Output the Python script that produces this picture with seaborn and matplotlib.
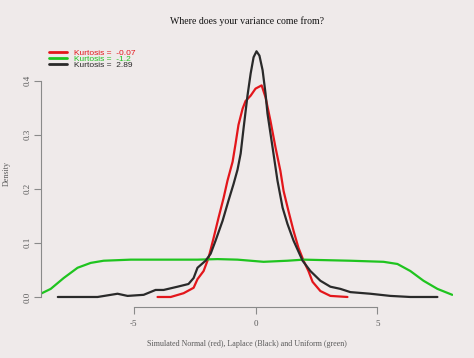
import matplotlib
matplotlib.use("Agg")
import matplotlib.pyplot as plt
import seaborn as sns
import pandas as pd

# Normal (red) density
normal_x = [-4.02, -3.48, -2.95, -2.54, -2.38, -2.13, -1.93, -1.72, -1.52, -1.31, -1.15,
            -0.94, -0.82, -0.70, -0.53, -0.41, -0.20, 0.0, 0.25, 0.41, 0.61, 0.82, 1.02,
            1.15, 1.35, 1.56, 1.76, 1.97, 2.17, 2.34, 2.66, 3.07, 3.77]
normal_y = [0.0, 0.0, 0.007, 0.017, 0.033, 0.048, 0.072, 0.109, 0.146, 0.183, 0.215,
            0.250, 0.283, 0.318, 0.348, 0.362, 0.372, 0.385, 0.391, 0.369, 0.326, 0.276,
            0.233, 0.196, 0.159, 0.122, 0.091, 0.067, 0.048, 0.028, 0.011, 0.002, 0.0]

# Laplace (black) density
laplace_x = [-8.11, -7.58, -6.48, -5.66, -5.25, -4.59, -4.10, -3.77, -3.20, -2.75, -2.54,
             -2.38, -2.05, -1.84, -1.64, -1.35, -1.11, -0.90, -0.74, -0.61, -0.49, -0.33,
             -0.20, -0.08, 0.04, 0.16, 0.29, 0.41, 0.49, 0.70, 0.90, 1.11, 1.31, 1.56,
             1.93, 2.25, 2.66, 3.07, 3.48, 3.89, 4.71, 5.53, 6.35, 7.46]
laplace_y = [0.0, 0.0, 0.0, 0.006, 0.002, 0.004, 0.013, 0.013, 0.019, 0.024, 0.035,
             0.054, 0.067, 0.080, 0.104, 0.141, 0.178, 0.209, 0.235, 0.265, 0.312, 0.372,
             0.413, 0.443, 0.454, 0.446, 0.419, 0.376, 0.339, 0.276, 0.215, 0.165, 0.135,
             0.104, 0.067, 0.048, 0.030, 0.019, 0.015, 0.009, 0.006, 0.002, 0.0, 0.0]

# Uniform (green) density
uniform_x = [-8.81, -8.40, -7.87, -7.30, -6.76, -6.23, -5.12, -3.77, -2.38, -1.56, -0.74,
             0.33, 1.31, 1.97, 3.89, 5.25, 5.82, 6.35, 6.89, 7.46, 8.07]
uniform_y = [0.006, 0.015, 0.035, 0.054, 0.063, 0.067, 0.069, 0.069, 0.069, 0.070, 0.069,
             0.065, 0.067, 0.069, 0.067, 0.065, 0.061, 0.048, 0.030, 0.015, 0.004]

legend_labels = ["Kurtosis =  -0.07", "Kurtosis =  -1.2", "Kurtosis =  2.89"]
x_ticks = [-5, 0, 5]
y_ticks = [0.0, 0.1, 0.2, 0.3, 0.4]

title = "Where does your variance come from?"
x_label = "Simulated Normal (red), Laplace (Black) and Uniform (green)"
y_label = "Density"

RED = "#e3161b"
GREEN = "#1fc41f"
BLACK = "#2a2a2a"
BG = "#efeaea"
AXC = "#8a8a8a"
TXC = "#5a5a5a"

df = pd.concat([
    pd.DataFrame({"x": normal_x, "y": normal_y, "dist": "normal"}),
    pd.DataFrame({"x": uniform_x, "y": uniform_y, "dist": "uniform"}),
    pd.DataFrame({"x": laplace_x, "y": laplace_y, "dist": "laplace"}),
], ignore_index=True)

sns.set_style("white")
fig = plt.figure(figsize=(4.74, 3.58), dpi=100, facecolor=BG)
ax = fig.add_axes([41 / 474, 1 - 307 / 358, (453 - 41) / 474, (307 - 41) / 358])
ax.set_facecolor(BG)

sns.lineplot(data=df, x="x", y="y", hue="dist", estimator=None, sort=False,
             palette={"normal": RED, "uniform": GREEN, "laplace": BLACK},
             linewidth=1.6, ax=ax, legend=False)

ax.set_xlim(-8.8, 8.1)
ax.set_ylim(-0.0185, 0.473)

for s in ["top", "right"]:
    ax.spines[s].set_visible(False)
for s in ["left", "bottom"]:
    ax.spines[s].set_visible(True)
    ax.spines[s].set_color(AXC)
    ax.spines[s].set_linewidth(0.8)
ax.spines["left"].set_bounds(0, 0.4)
ax.spines["bottom"].set_bounds(-5, 5)

serif = ["Liberation Serif", "DejaVu Serif"]
ax.set_xticks(x_ticks)
ax.set_yticks(y_ticks)
ax.set_xticklabels([str(t) for t in x_ticks], family=serif, fontsize=6.5, color=TXC)
ax.set_yticklabels([f"{t:.1f}" for t in y_ticks], family=serif, fontsize=6.5, color=TXC,
                   rotation=90, va="center")
ax.tick_params(axis="both", direction="out", length=5, width=0.8, color=AXC,
               bottom=True, left=True)
ax.tick_params(axis="x", pad=4)
ax.tick_params(axis="y", pad=2)

ax.set_title(title, family=serif, fontsize=7.1, color="#111111", pad=12)
ax.set_xlabel(x_label, family=serif, fontsize=5.8, color=TXC, labelpad=9)
ax.set_ylabel(y_label, family=serif, fontsize=5.8, color=TXC, labelpad=9)

handles = [plt.Line2D([], [], color=c, linewidth=2) for c in (RED, GREEN, BLACK)]
leg = ax.legend(handles, legend_labels, loc="upper left", frameon=False,
                bbox_to_anchor=(0.0, 1.0), prop={"family": ["Liberation Sans"], "size": 6},
                labelcolor=[RED, GREEN, BLACK], handlelength=2.2, handletextpad=0.85,
                labelspacing=-0.2, borderpad=0.6, borderaxespad=0.35)

fig.savefig("out.png", dpi=100, facecolor=BG)
